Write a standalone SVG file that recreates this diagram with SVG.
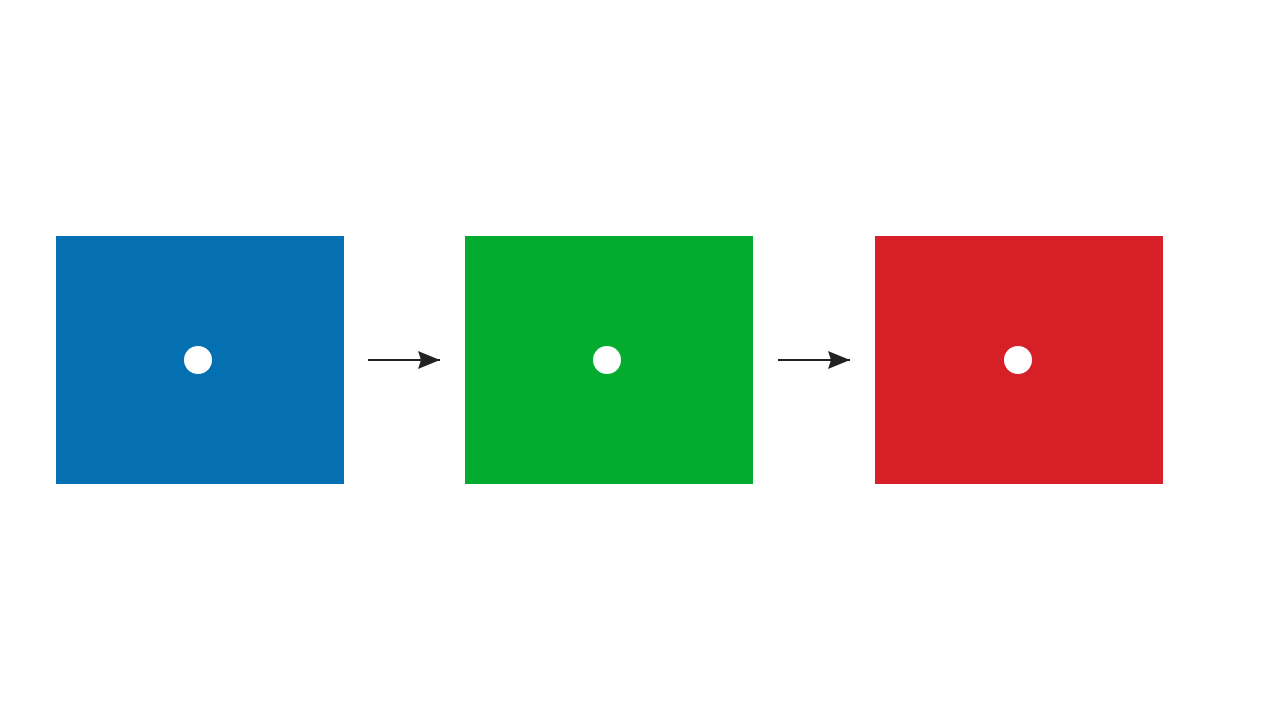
<svg xmlns="http://www.w3.org/2000/svg" width="1280" height="720" viewBox="0 0 1280 720">
<style>
.dot{fill:#ffffff}
.conn{stroke:#222222;stroke-width:2;fill:none}
</style>
<defs>
<marker id="arr" markerWidth="22" markerHeight="18" refX="22" refY="9" orient="auto" markerUnits="userSpaceOnUse" viewBox="0 0 22 18">
<path d="M0,0 L22,9 L0,18 L3,9 Z" fill="#222222"/>
</marker>
</defs>
<rect width="1280" height="720" fill="#ffffff"/>
<g id="node-blue">
<rect x="56" y="236" width="288" height="248" fill="#0470B1"/>
<circle class="dot" cx="198" cy="360" r="14"/>
</g>
<g id="node-green">
<rect x="465" y="236" width="288" height="248" fill="#03AC2F"/>
<circle class="dot" cx="607" cy="360" r="14"/>
</g>
<g id="node-red">
<rect x="875" y="236" width="288" height="248" fill="#D61F26"/>
<circle class="dot" cx="1018" cy="360" r="14"/>
</g>
<g id="connectors">
<line class="conn" x1="368" y1="360" x2="440" y2="360" marker-end="url(#arr)"/>
<line class="conn" x1="778" y1="360" x2="850" y2="360" marker-end="url(#arr)"/>
</g>
</svg>
